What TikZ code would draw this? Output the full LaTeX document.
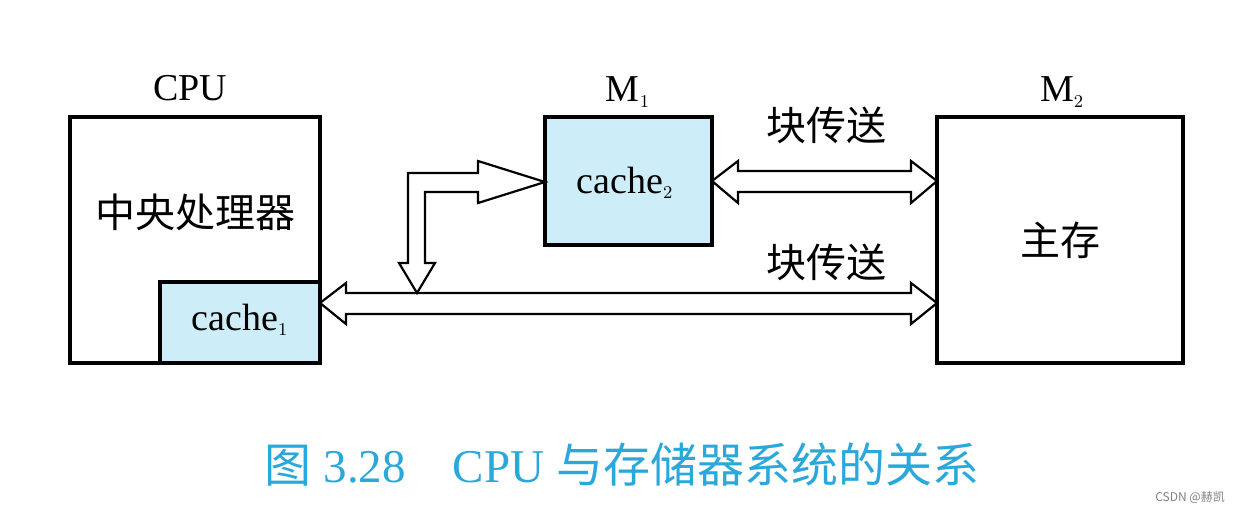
\documentclass[tikz,border=0pt]{standalone}
\usepackage{fontspec}
\setmainfont{Liberation Serif}
\newfontfamily\cjk{Noto Sans CJK SC}
\definecolor{lb}{HTML}{CDEDF8}
\definecolor{cap}{HTML}{2AA8DA}
\begin{document}
\begin{tikzpicture}[x=0.5pt,y=-0.5pt,
  box/.style={draw,line width=1.6pt},
  barrow/.style={draw,line width=1.1pt,fill=white,line join=miter},
  lbl/.style={font=\fontsize{19}{22}\selectfont},
  zh/.style={font=\cjk\fontsize{20}{23}\selectfont}]
\useasboundingbox (0,0) rectangle (1234,514);
\draw[box] (70,117) rectangle (320,363);
\draw[box,fill=lb] (160,282) rectangle (320,363);
\draw[box,fill=lb] (545,117) rectangle (712,245);
\draw[box] (937,117) rectangle (1183,363);
\node[lbl] (cpu) at (190,88) {CPU};
\node[zh] (cpuz) at (195,212) {中央处理器};
\node[lbl] (c1) at (240,320) {cache$_{\scriptscriptstyle 1}$};
\node[lbl] (m1) at (628,92) {M$_{\scriptscriptstyle 1}$};
\node[lbl] (c2) at (625,183) {cache$_{\scriptscriptstyle 2}$};
\node[lbl] (m2) at (1062,92) {M$_{\scriptscriptstyle 2}$};
\node[zh] (zc) at (1060,240) {主存};
\node[zh] (t1) at (826,125) {块传送};
\node[zh] (t2) at (826,262) {块传送};
% top double arrow
\draw[barrow] (712,181) -- (738,161) -- (738,171) -- (911,171) -- (911,161) -- (937,181)
  -- (911,203) -- (911,192) -- (738,192) -- (738,203) -- cycle;
% bottom double arrow
\draw[barrow] (320,303) -- (346,283) -- (346,293) -- (911,293) -- (911,283) -- (937,303)
  -- (911,324) -- (911,314) -- (346,314) -- (346,324) -- cycle;
% L arrow
\draw[barrow] (408,263) -- (408,173) -- (478,173) -- (478,161) -- (545,182) -- (478,203)
  -- (478,192) -- (425,192) -- (425,263) -- (435,263) -- (417,293) -- (399,263) -- cycle;
\node[text=cap,font=\fontsize{23.5}{27}\selectfont] (caption) at (622,465)
  {{\cjk 图} 3.28\quad CPU {\cjk 与存储器系统的关系}};
\node[text=gray,font=\cjk\fontsize{6}{7}\selectfont] (csdn) at (1190,497) {CSDN @赫凯};
\end{tikzpicture}
\end{document}
